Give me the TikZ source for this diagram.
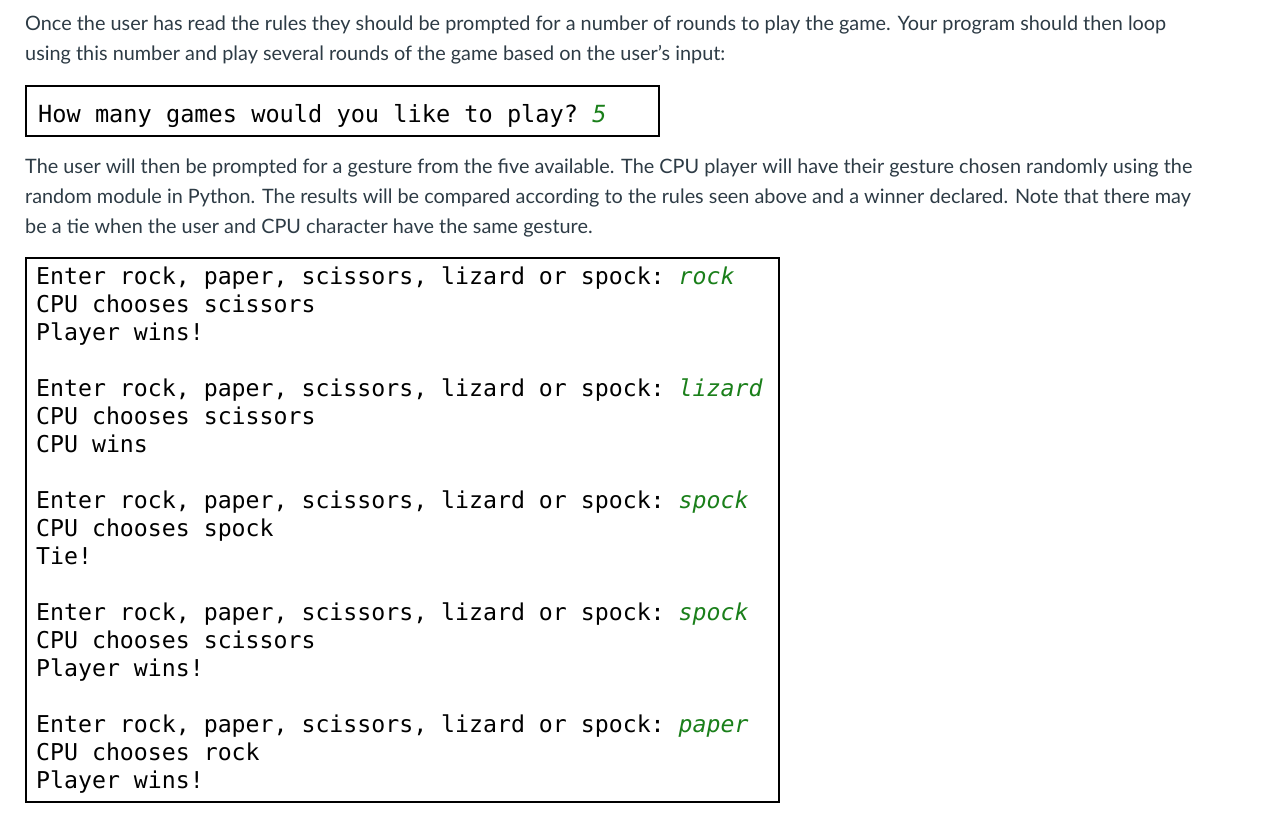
\documentclass[tikz,border=0pt]{standalone}
\usepackage{fontspec}
\setmainfont{Lato}
\setmonofont{DejaVu Sans Mono}
\definecolor{bodytxt}{HTML}{2D3B45}
\definecolor{ingreen}{HTML}{1A7F1A}
\begin{document}
\begin{tikzpicture}[x=1pt,y=-1pt,
  para/.style={anchor=base west,inner sep=0pt,text=bodytxt,font=\fontsize{19.85}{30}\selectfont},
  mono/.style={anchor=base west,inner sep=0pt,font=\ttfamily\fontsize{23.2}{28}\selectfont}]
\useasboundingbox (0,0) rectangle (1266,816);
\node[para] (p1) at (25,31) {Once the user has read the rules they should be prompted for a number of rounds to play the game. Your program should then loop};
\node[para] (p2) at (25,61) {using this number and play several rounds of the game based on the user's input:};
\draw[line width=1.3pt] (26,86) rectangle (659,136);
\node[mono,font=\ttfamily\fontsize{23.6}{28}\selectfont] (q) at (38,122) {How many games would you like to play? \textcolor{ingreen}{\itshape 5}};
\node[para] (p3) at (25,173) {The user will then be prompted for a gesture from the five available. The CPU player will have their gesture chosen randomly using the};
\node[para] (p4) at (25,203) {random module in Python. The results will be compared according to the rules seen above and a winner declared. Note that there may};
\node[para] (p5) at (25,233) {be a tie when the user and CPU character have the same gesture.};
\draw[line width=1.3pt] (26,258) rectangle (779,802);
\foreach \y/\g/\c/\r [count=\i] in {284/rock/scissors/Player wins!,396/lizard/scissors/CPU wins,508/spock/spock/Tie!,620/spock/scissors/Player wins!,732/paper/rock/Player wins!}{
  \node[mono] (e\i) at (36,\y) {Enter rock, paper, scissors, lizard or spock: \textcolor{ingreen}{\itshape\g}};
  \node[mono] (c\i) at (36,\y+28) {CPU chooses \c};
  \node[mono] (r\i) at (36,\y+56) {\r};
}
\end{tikzpicture}
\end{document}
